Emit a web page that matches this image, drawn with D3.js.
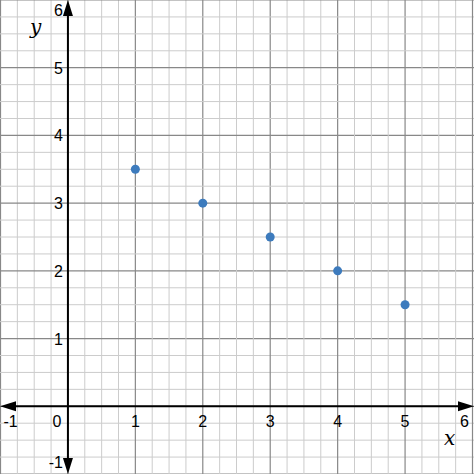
<!DOCTYPE html><html><head><meta charset="utf-8"><script src="https://cdn.jsdelivr.net/npm/d3@7"></script>
<style>body{margin:0;background:#fff}</style></head><body><svg id="c" width="474" height="474"></svg>
<script>
const xs=[1,2,3,4,5];
const ys=[3.5,3,2.5,2,1.5];
const xTicks=[-1,1,2,3,4,5,6];
const yTicks=[-1,1,2,3,4,5,6];
const svg=d3.select("#c");
const x=d3.scaleLinear().domain([-1,6]).range([0.5,472.5]);
const y=d3.scaleLinear().domain([-1,6]).range([474,0]);
const minor=d3.range(-1,6.01,0.25);
const g=svg.append("g");
minor.forEach(v=>{
  const maj=Math.abs(v-Math.round(v))<1e-6;
  g.append("line").attr("x1",x(v)).attr("x2",x(v)).attr("y1",0).attr("y2",474).attr("stroke",maj?"#888":"#ccc").attr("stroke-width",maj?1.2:1);
  g.append("line").attr("y1",y(v)).attr("y2",y(v)).attr("x1",0).attr("x2",474).attr("stroke",maj?"#888":"#ccc").attr("stroke-width",maj?1.2:1);
});
const x0=x(0),y0=y(0);
svg.append("line").attr("x1",8).attr("x2",466).attr("y1",y0).attr("y2",y0).attr("stroke","#000").attr("stroke-width",2);
svg.append("line").attr("y1",8).attr("y2",466).attr("x1",x0).attr("x2",x0).attr("stroke","#000").attr("stroke-width",2);
const ar=(p)=>svg.append("path").attr("d",p).attr("fill","#000");
ar(`M0,${y0} L16,${y0-5} L16,${y0+5}Z`);
ar(`M474,${y0} L458,${y0-5} L458,${y0+5}Z`);
ar(`M${x0},0 L${x0-5},16 L${x0+5},16Z`);
ar(`M${x0},474 L${x0-5},458 L${x0+5},458Z`);
const f="Arial, 'Liberation Sans', sans-serif";
xTicks.forEach(v=>svg.append("text").attr("x",v===-1?x(v)+10:(v===6?x(v)-8:x(v))).attr("y",y0+21).attr("text-anchor","middle").attr("font-family",f).attr("font-size",16).text(v));
svg.append("text").attr("x",x0-11).attr("y",y0+21).attr("text-anchor","middle").attr("font-family",f).attr("font-size",16).text("0");
yTicks.forEach(v=>svg.append("text").attr("x",x0-5).attr("y",v===6?y(v)+16:(v===-1?y(v)-6:y(v)+6)).attr("text-anchor","end").attr("font-family",f).attr("font-size",16).text(v));
svg.append("text").attr("x",444).attr("y",445).attr("font-family","'DejaVu Serif',serif").attr("font-style","italic").attr("font-size",20).text("x");
svg.append("text").attr("x",30).attr("y",34).attr("font-family","'DejaVu Serif',serif").attr("font-style","italic").attr("font-size",20).text("y");
svg.selectAll("circle").data(xs).join("circle").attr("cx",d=>x(d)).attr("cy",(d,i)=>y(ys[i])).attr("r",4.5).attr("fill","#3d7bbd");
</script></body></html>
